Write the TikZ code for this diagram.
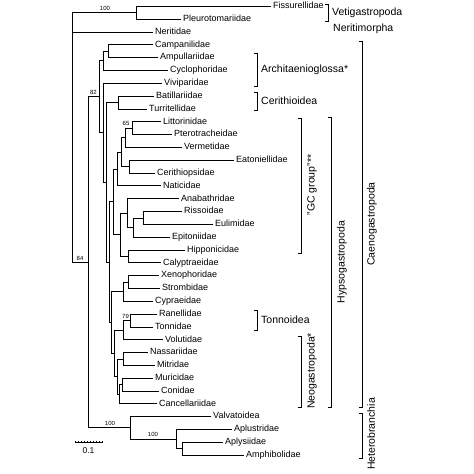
\documentclass[tikz,border=0pt]{standalone}
\usepackage{fontspec}
\setmainfont{Liberation Sans}
\begin{document}
\begin{tikzpicture}[x=1pt,y=-1pt,
  br/.style={line width=0.75pt,black},
  leaf/.style={anchor=west,inner xsep=2pt,inner ysep=0pt,font=\fontsize{9}{10}\selectfont,text height=6.5pt,text depth=1.9pt},
  boot/.style={inner sep=0pt,font=\fontsize{6}{7}\selectfont},
  grp/.style={anchor=west,inner sep=0pt,font=\fontsize{10.5}{12}\selectfont},
  vgrp/.style={rotate=90,inner sep=0pt,font=\fontsize{10.5}{12}\selectfont},
  brk/.style={line width=0.9pt}]
\useasboundingbox (0,0) rectangle (474,474);
% leaves
\node[leaf] (fis) at (271,6) {Fissurellidae};
\node[leaf] (ple) at (181,19) {Pleurotomariidae};
\node[leaf] (ner) at (153,32) {Neritidae};
\node[leaf] (cam) at (153,44.8) {Campanilidae};
\node[leaf] (amp) at (158,57.6) {Ampullariidae};
\node[leaf] (cyc) at (168,70.5) {Cyclophoridae};
\node[leaf] (viv) at (162,83.3) {Viviparidae};
\node[leaf] (bat) at (154,96.1) {Batillariidae};
\node[leaf] (tur) at (147,108.9) {Turritellidae};
\node[leaf] (lit) at (161,121.7) {Littorinidae};
\node[leaf] (pte) at (172,134.6) {Pterotracheidae};
\node[leaf] (ver) at (182,147.4) {Vermetidae};
\node[leaf] (eat) at (234,160.2) {Eatoniellidae};
\node[leaf] (cer) at (155,173.0) {Cerithiopsidae};
\node[leaf] (nat) at (161,185.8) {Naticidae};
\node[leaf] (ana) at (179,198.7) {Anabathridae};
\node[leaf] (ris) at (182,211.5) {Rissoidae};
\node[leaf] (eul) at (213,224.3) {Eulimidae};
\node[leaf] (epi) at (170,237.1) {Epitoniidae};
\node[leaf] (hip) at (185,249.9) {Hipponicidae};
\node[leaf] (cal) at (161,262.8) {Calyptraeidae};
\node[leaf] (xen) at (159,275.6) {Xenophoridae};
\node[leaf] (str) at (160,288.4) {Strombidae};
\node[leaf] (cyp) at (153,301.2) {Cypraeidae};
\node[leaf] (ran) at (157,314.0) {Ranellidae};
\node[leaf] (ton) at (153,326.9) {Tonnidae};
\node[leaf] (vol) at (163,339.7) {Volutidae};
\node[leaf] (nas) at (148,352.5) {Nassariidae};
\node[leaf] (mit) at (155,365.3) {Mitridae};
\node[leaf] (mur) at (153,378.1) {Muricidae};
\node[leaf] (con) at (159,391.0) {Conidae};
\node[leaf] (can) at (157,403.8) {Cancellariidae};
\node[leaf] (val) at (211,416.6) {Valvatoidea};
\node[leaf] (aplu) at (232,429.4) {Aplustridae};
\node[leaf] (aply) at (223,442.2) {Aplysiidae};
\node[leaf] (amph) at (244,455.0) {Amphibolidae};
% internal nodes
\coordinate (V) at (136,12.5);
\coordinate (R) at (72,262.3);
\coordinate (N84) at (88,262.3);
\coordinate (N82) at (99,96.8);
\coordinate (A) at (103,60.85);
\coordinate (CA) at (108,51.2);
\coordinate (B) at (103,132.8);
\coordinate (C) at (106,182.3);
\coordinate (CE) at (118,102.5);
\coordinate (HY) at (109,262.15);
\coordinate (GC) at (113,201.85);
\coordinate (G1) at (117,169.0);
\coordinate (G3) at (121,152.2);
\coordinate (G4) at (125,137.8);
\coordinate (L65) at (132,128.15);
\coordinate (EC) at (129,166.6);
\coordinate (G2) at (120,234.7);
\coordinate (G5) at (127,213.1);
\coordinate (G6) at (133,227.5);
\coordinate (RE) at (143,217.9);
\coordinate (HC) at (128,256.35);
\coordinate (Q) at (111,322.45);
\coordinate (XSC) at (123,291.6);
\coordinate (XS) at (128,282.0);
\coordinate (R1) at (114,353.3);
\coordinate (TV) at (123,330.1);
\coordinate (T79) at (130,320.45);
\coordinate (NC) at (117,376.55);
\coordinate (NM) at (123,358.9);
\coordinate (MCC) at (119.5,394.2);
\coordinate (MC) at (122,384.55);
\coordinate (H) at (130,427.8);
\coordinate (I) at (176,439.0);
\coordinate (AA) at (182,448.6);
% branches
\begin{scope}[br]
\draw (V) |- (fis.west); \draw (V) |- (ple.west);
\draw (R) |- (V); \draw (R) |- (ner.west); \draw (R) -- (N84);
\draw (N84) |- (N82); \draw (N84) |- (H);
\draw (N82) |- (A); \draw (N82) |- (B);
\draw (A) |- (CA); \draw (A) |- (cyc.west);
\draw (CA) |- (cam.west); \draw (CA) |- (amp.west);
\draw (B) |- (viv.west); \draw (B) |- (C);
\draw (C) |- (CE); \draw (C) |- (HY);
\draw (CE) |- (bat.west); \draw (CE) |- (tur.west);
\draw (HY) |- (GC); \draw (HY) |- (Q);
\draw (GC) |- (G1); \draw (GC) |- (G2);
\draw (G1) |- (G3); \draw (G1) |- (nat.west);
\draw (G3) |- (G4); \draw (G3) |- (EC);
\draw (G4) |- (L65); \draw (G4) |- (ver.west);
\draw (L65) |- (lit.west); \draw (L65) |- (pte.west);
\draw (EC) |- (eat.west); \draw (EC) |- (cer.west);
\draw (G2) |- (G5); \draw (G2) |- (HC);
\draw (G5) |- (ana.west); \draw (G5) |- (G6);
\draw (G6) |- (RE); \draw (G6) |- (epi.west);
\draw (RE) |- (ris.west); \draw (RE) |- (eul.west);
\draw (HC) |- (hip.west); \draw (HC) |- (cal.west);
\draw (Q) |- (XSC); \draw (Q) |- (R1);
\draw (XSC) |- (XS); \draw (XSC) |- (cyp.west);
\draw (XS) |- (xen.west); \draw (XS) |- (str.west);
\draw (R1) |- (TV); \draw (R1) |- (NC);
\draw (TV) |- (T79); \draw (TV) |- (vol.west);
\draw (T79) |- (ran.west); \draw (T79) |- (ton.west);
\draw (NC) |- (NM); \draw (NC) |- (MCC);
\draw (NM) |- (nas.west); \draw (NM) |- (mit.west);
\draw (MCC) |- (MC); \draw (MCC) |- (can.west);
\draw (MC) |- (mur.west); \draw (MC) |- (con.west);
\draw (H) |- (val.west); \draw (H) |- (I);
\draw (I) |- (aplu.west); \draw (I) |- (AA);
\draw (AA) |- (aply.west); \draw (AA) |- (amph.west);
\end{scope}
% bootstrap values
\node[boot] (b1) at (105,8.2) {100};
\node[boot] (b2) at (93.5,92.5) {82};
\node[boot] (b3) at (126,123.8) {65};
\node[boot] (b4) at (80,258) {84};
\node[boot] (b5) at (125.5,316.2) {79};
\node[boot] (b6) at (110,423.5) {100};
\node[boot] (b7) at (153,434.7) {100};
% scale bar
\coordinate (sb1) at (75,442);
\coordinate (sb2) at (102,442);
\draw[line width=0.7pt] (sb1) -- (sb2);
\foreach \t in {0,...,9} {\draw[line width=0.4pt] (75+3*\t,440.8) -- (75+3*\t,443.2);}
\node[inner sep=0pt,font=\fontsize{8.5}{10}\selectfont] (sbl) at (88.5,451) {0.1};
% group brackets
\draw[brk] (325,4) -- (328,4) -- (328,21) -- (325,21);
\node[grp] (gveti) at (332,13) {Vetigastropoda};
\node[grp] (gnerit) at (333,29) {Neritimorpha};
\draw[brk] (254,53) -- (257,53) -- (257,86) -- (254,86);
\node[grp] (garch) at (261,70) {Architaenioglossa*};
\draw[brk] (254,92) -- (257,92) -- (257,110) -- (254,110);
\node[grp] (gceri) at (261,101) {Cerithioidea};
\draw[brk] (298,118) -- (301,118) -- (301,253) -- (298,253);
\node[vgrp] (ggc) at (312,185) {"GC group"**};
\draw[brk] (328,117) -- (331,117) -- (331,407) -- (328,407);
\node[vgrp] (ghyp) at (342,262) {Hypsogastropoda};
\draw[brk] (359,41) -- (362,41) -- (362,407) -- (359,407);
\node[vgrp] (gcaeno) at (372,224) {Caenogastropoda};
\draw[brk] (254,310) -- (257,310) -- (257,330) -- (254,330);
\node[grp] (gtonn) at (261,320) {Tonnoidea};
\draw[brk] (298,336) -- (301,336) -- (301,407) -- (298,407);
\node[vgrp] (gneo) at (312,371) {Neogastropoda*};
\draw[brk] (359,413) -- (362,413) -- (362,458) -- (359,458);
\node[vgrp] (ghet) at (371,434) {Heterobranchia};
\end{tikzpicture}
\end{document}
